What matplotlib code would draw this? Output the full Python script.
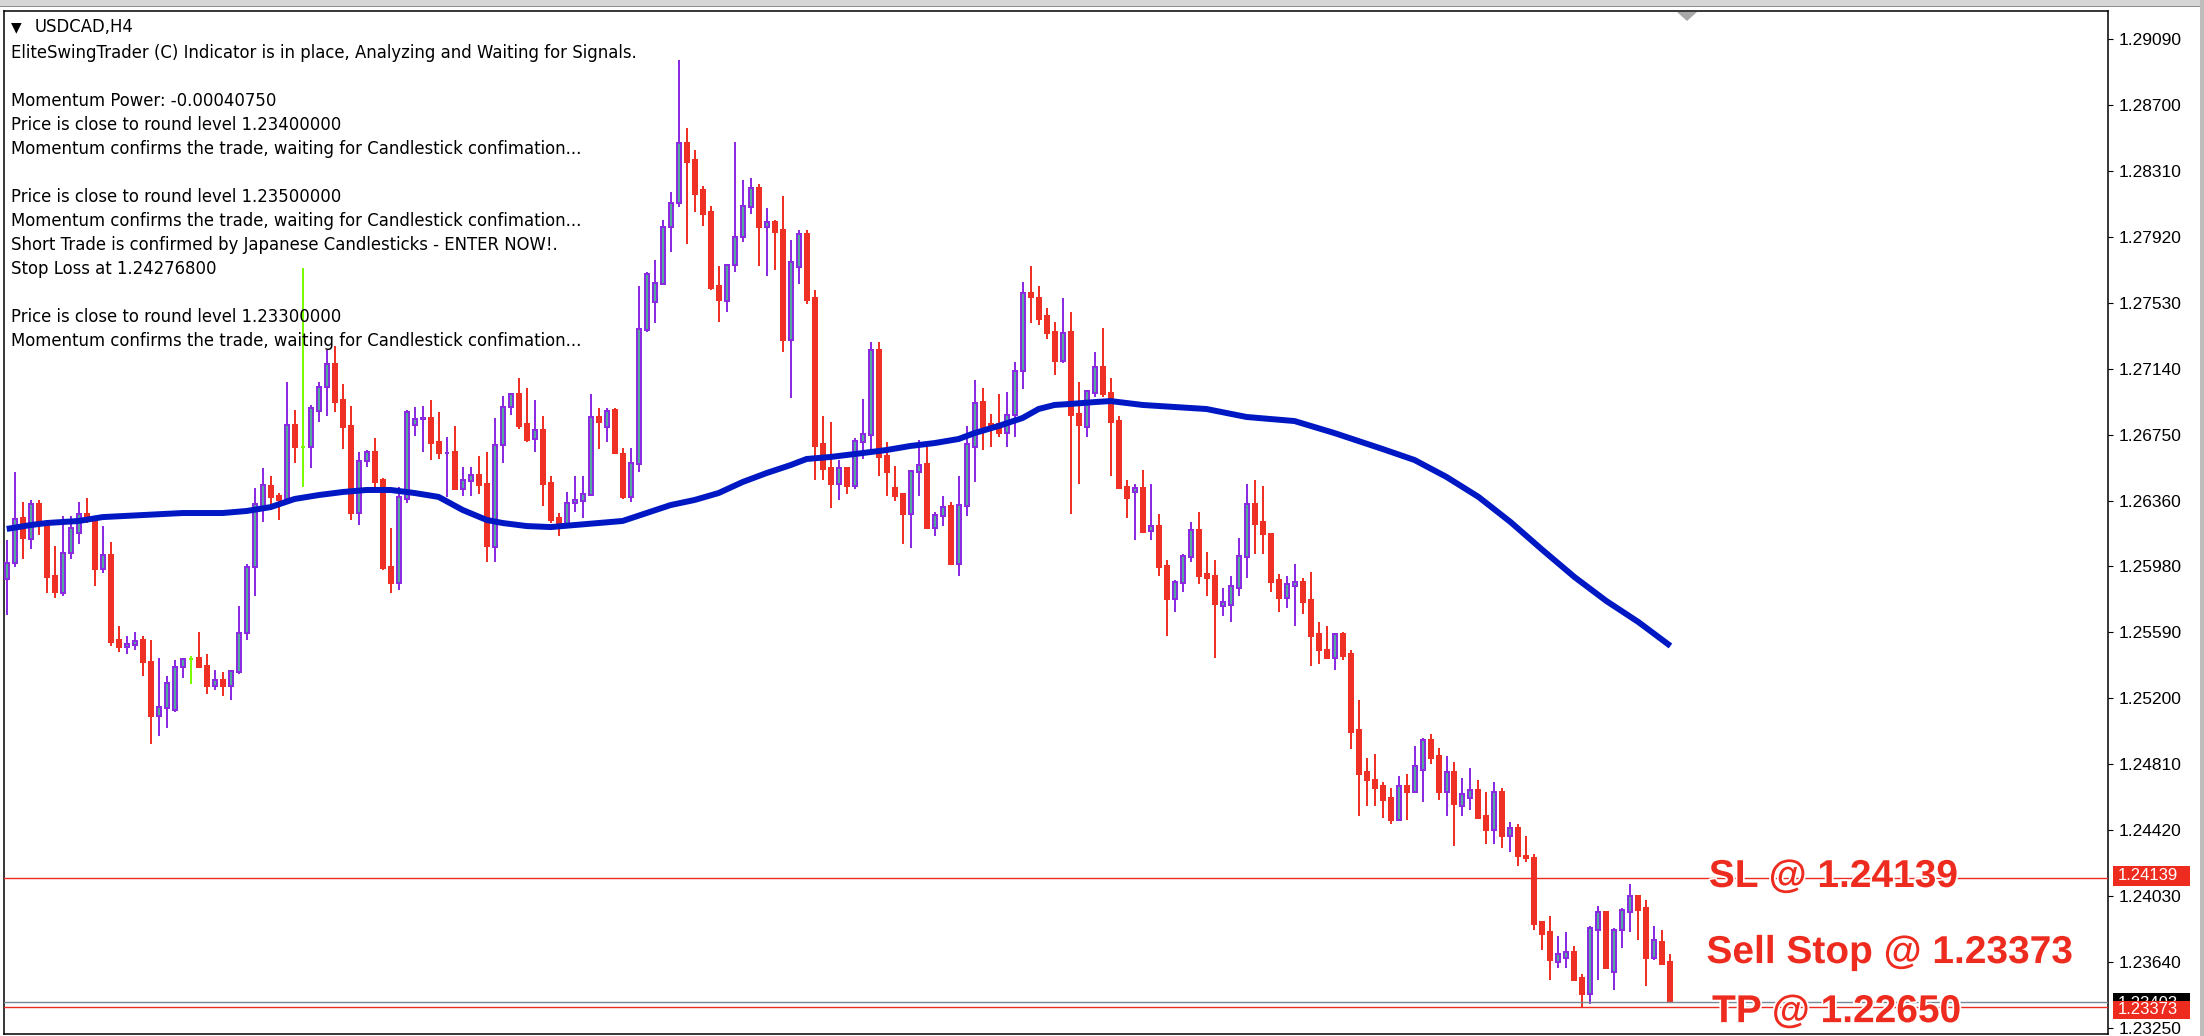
import matplotlib
matplotlib.use('Agg')
import matplotlib.pyplot as plt
import matplotlib.patheffects as pe
from matplotlib.patches import Rectangle, Polygon
from matplotlib.transforms import Bbox
import numpy as np

# --- DATA: USDCAD H4 candles ---
opens = [
    1.25899, 1.25993, 1.26259, 1.26135, 1.26344, 1.26240, 1.25918, 1.25816, 1.26052, 1.26175,
    1.26283, 1.26240, 1.25958, 1.26046, 1.25540, 1.25497, 1.25511, 1.25540, 1.25412, 1.25095,
    1.25142, 1.25130, 1.25379, 1.25430, 1.25434, 1.25387, 1.25272, 1.25304, 1.25272, 1.25355,
    1.25580, 1.25970, 1.26328, 1.26450, 1.26391, 1.26371, 1.26813, 1.26683, 1.26679, 1.26891,
    1.27033, 1.27171, 1.26958, 1.26805, 1.26289, 1.26596, 1.26649, 1.26486, 1.25973, 1.25875,
    1.26371, 1.26813, 1.26844, 1.26850, 1.26710, 1.26643, 1.26651, 1.26430, 1.26482, 1.26517,
    1.26462, 1.26092, 1.26692, 1.26919, 1.26994, 1.26817, 1.26726, 1.26781, 1.26470, 1.26259,
    1.26226, 1.26348, 1.26360, 1.26395, 1.26860, 1.26797, 1.26899, 1.26639, 1.26383, 1.26582,
    1.27374, 1.27538, 1.27646, 1.27977, 1.28119, 1.28477, 1.28375, 1.28198, 1.28068, 1.27630,
    1.27544, 1.27754, 1.27918, 1.28095, 1.28209, 1.27977, 1.28008, 1.27961, 1.27315, 1.27741,
    1.27938, 1.27559, 1.26697, 1.26554, 1.26465, 1.26554, 1.26453, 1.26713, 1.26749, 1.27253,
    1.26627, 1.26437, 1.26402, 1.26288, 1.26536, 1.26579, 1.26205, 1.26276, 1.26331, 1.25992,
    1.26335, 1.26678, 1.26946, 1.26816, 1.26816, 1.26764, 1.26867, 1.27127, 1.27592, 1.27558,
    1.27454, 1.27359, 1.27186, 1.27359, 1.26875, 1.26800, 1.26997, 1.27154, 1.27001, 1.26835,
    1.26445, 1.26417, 1.26439, 1.26182, 1.26214, 1.25978, 1.25781, 1.25875, 1.26029, 1.26190,
    1.25930, 1.25918, 1.25741, 1.25745, 1.25851, 1.26029, 1.26344, 1.26238, 1.26167, 1.25895,
    1.25788, 1.25859, 1.25883, 1.25777, 1.25576, 1.25481, 1.25434, 1.25576, 1.25457, 1.25009,
    1.24761, 1.24713, 1.24678, 1.24607, 1.24481, 1.24678, 1.24642, 1.24772, 1.24950, 1.24855,
    1.24642, 1.24761, 1.24560, 1.24607, 1.24654, 1.24501, 1.24418, 1.24642, 1.24382, 1.24430,
    1.24266, 1.24254, 1.23875, 1.23816, 1.23639, 1.23663, 1.23698, 1.23544, 1.23450, 1.23828,
    1.23934, 1.23580, 1.23828, 1.23934, 1.24029, 1.23958, 1.23663, 1.23757, 1.23639,
]
highs = [
    1.26131, 1.26533, 1.26356, 1.26368, 1.26368, 1.26249, 1.26096, 1.26273, 1.26273, 1.26356,
    1.26379, 1.26257, 1.26214, 1.26119, 1.25623, 1.25564, 1.25587, 1.25564, 1.25540, 1.25434,
    1.25327, 1.25422, 1.25434, 1.25446, 1.25587, 1.25457, 1.25363, 1.25351, 1.25363, 1.25741,
    1.25989, 1.26439, 1.26557, 1.26509, 1.26411, 1.27065, 1.26899, 1.27740, 1.26929, 1.27065,
    1.27254, 1.27278, 1.27053, 1.26923, 1.26653, 1.26663, 1.26732, 1.26497, 1.26202, 1.26446,
    1.26899, 1.26919, 1.26923, 1.26958, 1.26889, 1.26742, 1.26805, 1.26564, 1.26564, 1.26627,
    1.26653, 1.26850, 1.26982, 1.26998, 1.27086, 1.27029, 1.26958, 1.26864, 1.26509, 1.26293,
    1.26415, 1.26509, 1.26509, 1.26994, 1.26909, 1.26909, 1.26909, 1.26673, 1.26673, 1.27630,
    1.27715, 1.27784, 1.28020, 1.28186, 1.28966, 1.28562, 1.28434, 1.28221, 1.28103, 1.27748,
    1.27758, 1.28481, 1.28257, 1.28269, 1.28233, 1.28091, 1.28020, 1.28162, 1.27902, 1.27961,
    1.27961, 1.27607, 1.26863, 1.26827, 1.26603, 1.26554, 1.26731, 1.26967, 1.27300, 1.27300,
    1.26709, 1.26567, 1.26402, 1.26544, 1.26721, 1.26701, 1.26296, 1.26390, 1.26355, 1.26508,
    1.26804, 1.27076, 1.27028, 1.26875, 1.26993, 1.27005, 1.27182, 1.27655, 1.27749, 1.27631,
    1.27499, 1.27420, 1.27558, 1.27478, 1.27064, 1.27017, 1.27241, 1.27383, 1.27088, 1.26863,
    1.26485, 1.26462, 1.26545, 1.26462, 1.26285, 1.26013, 1.25895, 1.26048, 1.26238, 1.26297,
    1.26060, 1.26013, 1.25848, 1.25918, 1.26143, 1.26462, 1.26486, 1.26450, 1.26167, 1.25930,
    1.25918, 1.25989, 1.25907, 1.25942, 1.25647, 1.25623, 1.25576, 1.25587, 1.25482, 1.25186,
    1.24843, 1.24867, 1.24702, 1.24666, 1.24737, 1.24749, 1.24914, 1.24962, 1.24985, 1.24903,
    1.24855, 1.24820, 1.24725, 1.24784, 1.24713, 1.24642, 1.24702, 1.24666, 1.24465, 1.24453,
    1.24384, 1.24277, 1.23875, 1.23911, 1.23793, 1.23816, 1.23734, 1.23568, 1.23852, 1.23970,
    1.23934, 1.23840, 1.23958, 1.24100, 1.24029, 1.24005, 1.23852, 1.23828, 1.23686,
]
lows = [
    1.25688, 1.25970, 1.26017, 1.26076, 1.26159, 1.25816, 1.25792, 1.25800, 1.26017, 1.26111,
    1.26230, 1.25859, 1.25934, 1.25505, 1.25469, 1.25461, 1.25481, 1.25327, 1.24926, 1.24973,
    1.25020, 1.25119, 1.25316, 1.25280, 1.25379, 1.25221, 1.25245, 1.25209, 1.25186, 1.25343,
    1.25540, 1.25800, 1.26239, 1.26338, 1.26249, 1.26367, 1.26584, 1.26446, 1.26558, 1.26830,
    1.26864, 1.26889, 1.26667, 1.26249, 1.26218, 1.26560, 1.26436, 1.25954, 1.25816, 1.25839,
    1.26348, 1.26746, 1.26653, 1.26604, 1.26608, 1.26387, 1.26426, 1.26391, 1.26391, 1.26403,
    1.26003, 1.26003, 1.26584, 1.26870, 1.26785, 1.26712, 1.26653, 1.26332, 1.26233, 1.26155,
    1.26218, 1.26296, 1.26263, 1.26395, 1.26667, 1.26712, 1.26643, 1.26371, 1.26358, 1.26533,
    1.27360, 1.27410, 1.27646, 1.27833, 1.28095, 1.27882, 1.28070, 1.27985, 1.27607, 1.27419,
    1.27479, 1.27715, 1.27892, 1.28056, 1.27748, 1.27689, 1.27725, 1.27242, 1.26972, 1.27646,
    1.27528, 1.26484, 1.26485, 1.26323, 1.26370, 1.26406, 1.26430, 1.26607, 1.26662, 1.26508,
    1.26390, 1.26359, 1.26110, 1.26087, 1.26390, 1.26205, 1.26158, 1.26217, 1.25992, 1.25921,
    1.26276, 1.26477, 1.26666, 1.26678, 1.26737, 1.26678, 1.26737, 1.27021, 1.27411, 1.27399,
    1.27316, 1.27103, 1.27174, 1.26288, 1.26465, 1.26737, 1.26977, 1.26977, 1.26508, 1.26430,
    1.26264, 1.26131, 1.26171, 1.26131, 1.25918, 1.25564, 1.25706, 1.25824, 1.26001, 1.25871,
    1.25800, 1.25434, 1.25682, 1.25647, 1.25800, 1.25907, 1.26048, 1.26048, 1.25824, 1.25706,
    1.25729, 1.25623, 1.25694, 1.25387, 1.25398, 1.25434, 1.25363, 1.25422, 1.24895, 1.24501,
    1.24560, 1.24560, 1.24489, 1.24453, 1.24477, 1.24477, 1.24642, 1.24583, 1.24808, 1.24595,
    1.24501, 1.24323, 1.24501, 1.24536, 1.24489, 1.24335, 1.24335, 1.24312, 1.24288, 1.24207,
    1.24230, 1.23828, 1.23710, 1.23533, 1.23604, 1.23604, 1.23533, 1.23367, 1.23391, 1.23533,
    1.23604, 1.23473, 1.23722, 1.23816, 1.23769, 1.23497, 1.23651, 1.23627, 1.23403,
]
closes = [
    1.25997, 1.26257, 1.26145, 1.26344, 1.26240, 1.25911, 1.25826, 1.26056, 1.26200, 1.26283,
    1.26249, 1.25958, 1.26046, 1.25530, 1.25497, 1.25517, 1.25538, 1.25412, 1.25091, 1.25146,
    1.25290, 1.25383, 1.25430, 1.25430, 1.25379, 1.25268, 1.25304, 1.25268, 1.25359, 1.25584,
    1.25974, 1.26344, 1.26458, 1.26383, 1.26367, 1.26813, 1.26679, 1.26683, 1.26909, 1.27037,
    1.27171, 1.26949, 1.26797, 1.26289, 1.26600, 1.26649, 1.26476, 1.25966, 1.25875, 1.26387,
    1.26887, 1.26848, 1.26852, 1.26702, 1.26643, 1.26647, 1.26430, 1.26486, 1.26517, 1.26454,
    1.26099, 1.26694, 1.26919, 1.26992, 1.26805, 1.26722, 1.26781, 1.26462, 1.26249, 1.26226,
    1.26352, 1.26365, 1.26401, 1.26860, 1.26830, 1.26895, 1.26643, 1.26383, 1.26588, 1.27380,
    1.27701, 1.27650, 1.27981, 1.28123, 1.28477, 1.28365, 1.28174, 1.28056, 1.27618, 1.27551,
    1.27758, 1.27922, 1.28103, 1.28209, 1.27977, 1.28007, 1.27951, 1.27315, 1.27772, 1.27938,
    1.27551, 1.26685, 1.26548, 1.26465, 1.26554, 1.26453, 1.26717, 1.26755, 1.27253, 1.26619,
    1.26536, 1.26390, 1.26288, 1.26540, 1.26575, 1.26205, 1.26280, 1.26327, 1.25992, 1.26339,
    1.26697, 1.26942, 1.26796, 1.26804, 1.26764, 1.26871, 1.27131, 1.27592, 1.27564, 1.27434,
    1.27351, 1.27186, 1.27355, 1.26867, 1.26808, 1.27013, 1.27154, 1.26993, 1.26831, 1.26441,
    1.26382, 1.26439, 1.26180, 1.26214, 1.25970, 1.25781, 1.25883, 1.26037, 1.26190, 1.25918,
    1.25907, 1.25753, 1.25765, 1.25859, 1.26037, 1.26344, 1.26226, 1.26167, 1.25883, 1.25788,
    1.25871, 1.25883, 1.25765, 1.25564, 1.25481, 1.25434, 1.25576, 1.25446, 1.24999, 1.24749,
    1.24713, 1.24666, 1.24595, 1.24477, 1.24678, 1.24642, 1.24796, 1.24950, 1.24843, 1.24642,
    1.24761, 1.24572, 1.24631, 1.24654, 1.24489, 1.24418, 1.24642, 1.24382, 1.24430, 1.24266,
    1.24254, 1.23864, 1.23804, 1.23651, 1.23686, 1.23698, 1.23533, 1.23450, 1.23840, 1.23934,
    1.23604, 1.23828, 1.23946, 1.24029, 1.23946, 1.23663, 1.23769, 1.23627, 1.23403,
]

# moving average (bar index, value)
ma_idx = [0, 3, 5, 9, 12, 17, 22, 27, 30, 33, 36, 39, 42, 45, 48, 51, 54, 57, 60, 62,
          65, 68, 71, 74, 77, 80, 83, 86, 89, 92, 95, 98, 100, 103, 107, 110, 113, 116, 119, 121,
          124, 127, 129, 131, 133, 136, 138, 142, 150, 155, 161, 166, 172, 176, 180, 184, 188, 192,
          196, 200, 204, 208]
ma_val = [1.26197, 1.26220, 1.26232, 1.26244, 1.26267, 1.26279, 1.26291, 1.26291, 1.26303, 1.26326,
          1.26374, 1.26397, 1.26415, 1.26427, 1.26427, 1.26409, 1.26386, 1.26309, 1.26250, 1.26232,
          1.26214, 1.26208, 1.26220, 1.26232, 1.26244, 1.26291, 1.26338, 1.26368, 1.26409, 1.26474,
          1.26527, 1.26574, 1.26610, 1.26622, 1.26645, 1.26663, 1.26687, 1.26704, 1.26728, 1.26763,
          1.26805, 1.26852, 1.26905, 1.26929, 1.26935, 1.26946, 1.26952, 1.26929, 1.26905, 1.26858,
          1.26834, 1.26763, 1.26669, 1.26604, 1.26504, 1.26386, 1.26238, 1.26073, 1.25913, 1.25771,
          1.25647, 1.25506]

price_ticks = [1.29090, 1.28700, 1.28310, 1.27920, 1.27530, 1.27140, 1.26750, 1.26360,
               1.25980, 1.25590, 1.25200, 1.24810, 1.24420, 1.24030, 1.23640, 1.23250]

sl_price = 1.24139
entry_price = 1.23373
bid_price = 1.23403
tp_price = 1.22650

info_lines = [
    "EliteSwingTrader (C) Indicator is in place, Analyzing and Waiting for Signals.",
    "",
    "Momentum Power: -0.00040750",
    "Price is close to round level 1.23400000",
    "Momentum confirms the trade, waiting for Candlestick confimation...",
    "",
    "Price is close to round level 1.23500000",
    "Momentum confirms the trade, waiting for Candlestick confimation...",
    "Short Trade is confirmed by Japanese Candlesticks - ENTER NOW!.",
    "Stop Loss at 1.24276800",
    "",
    "Price is close to round level 1.23300000",
    "Momentum confirms the trade, waiting for Candlestick confimation...",
]

# --- colours ---
BULL_EDGE = '#8A2BE2'
BULL_FACE = '#52A79F'
BEAR = '#EE3124'
DOJI = '#7CFC00'
MA_COL = '#0018C4'
LINE_RED = '#EE2B1F'

W, H = 2204, 1036
fig = plt.figure(figsize=(W / 100, H / 100), dpi=100)
fig.patch.set_facecolor('white')


def fx(px):
    return px / W


def fy(py):
    return 1 - py / H


ax = fig.add_axes([fx(4), fy(1034), fx(2108) - fx(4), fy(11) - fy(1034)])
ax.set_xlim(-0.34, 262.7)
ax.set_ylim(1.23215, 1.29255)

o = np.array(opens)
h = np.array(highs)
l = np.array(lows)
c = np.array(closes)
x = np.arange(len(o))

edge = np.where(c > o, BULL_EDGE, np.where(c < o, BEAR, DOJI))
face = np.where(c > o, BULL_FACE, np.where(c < o, BEAR, DOJI))

ax.vlines(x, l, h, colors=edge, lw=1.44, zorder=2)
ax.bar(x, np.abs(c - o), bottom=np.minimum(o, c), width=0.5,
       color=face, edgecolor=edge, linewidth=1.44, zorder=3)

ax.plot(ma_idx, ma_val, color=MA_COL, lw=4.3, solid_capstyle='butt', zorder=4)

# horizontal levels
ax.axhline(sl_price, color=LINE_RED, lw=1.0, zorder=5)
ax.axhline(bid_price, color='#7A8896', lw=1.0, zorder=5)
ax.axhline(entry_price, color=LINE_RED, lw=1.0, zorder=5)

halo = [pe.withStroke(linewidth=2.5, foreground='white')]
big = dict(color=LINE_RED, fontsize=28, fontweight='bold', family='Liberation Sans',
           va='baseline', ha='left', zorder=6, path_effects=halo)
ax.text(212.8, 1.24083, f"SL @ {sl_price:.5f}", **big)
ax.text(212.5, 1.23634, f"Sell Stop @ {entry_price:.5f}", **big)
ax.text(213.2, 1.23285, f"TP @ {tp_price:.5f}", **big)

# price scale on the right
ax.yaxis.tick_right()
ax.set_yticks(price_ticks)
ax.set_yticklabels([f"{v:.5f}" for v in price_ticks])
ax.set_xticks([])
ax.tick_params(axis='y', direction='out', length=3.6, width=0.8, pad=4,
               labelsize=12.5, colors='black')
for lab in ax.get_yticklabels():
    lab.set_family('Liberation Sans')
for sp in ax.spines.values():
    sp.set_color('black')
    sp.set_linewidth(1.1)


def price_box(text, bg, top, bottom, z, clip_bottom=None):
    fig.add_artist(Rectangle((fx(2113), fy(bottom)), fx(2190) - fx(2113), fy(top) - fy(bottom),
                             transform=fig.transFigure, facecolor=bg, edgecolor='none', zorder=z))
    t = fig.text(fx(2118), fy((top + bottom) / 2), text, color='white', fontsize=12,
                 family='Liberation Sans', va='center', ha='left', zorder=z + 1)
    if clip_bottom is not None:
        # only the top of this label peeks out above the next box
        t.set_clip_box(Bbox([[2113, H - clip_bottom], [2190, H - top]]))
        t.set_clip_on(True)


price_box(f"{sl_price:.5f}", LINE_RED, 866, 886, 10)
price_box(f"{bid_price:.5f}", 'black', 993, 1013, 12, clip_bottom=1001)
price_box(f"{entry_price:.5f}", LINE_RED, 1001, 1019, 14)

# header text
fig.text(fx(11), fy(27), "\u25BC", fontsize=10, family='DejaVu Sans', va='center', ha='left')
fig.text(fx(35), fy(27), "USDCAD,H4", fontsize=11.9, family='DejaVu Sans', va='center', ha='left')
for i, line in enumerate(info_lines):
    if line:
        fig.text(fx(11), fy(53 + 24 * i), line, fontsize=11.9, family='DejaVu Sans',
                 va='center', ha='left')

# window chrome: top strip, shift marker, right edge
fig.add_artist(Rectangle((0, fy(6)), 1, fy(0) - fy(6), transform=fig.transFigure,
                         facecolor='#D6D6D6', edgecolor='none'))
fig.add_artist(Rectangle((0, fy(7)), 1, fy(6) - fy(7), transform=fig.transFigure,
                         facecolor='#8C8C8C', edgecolor='none'))
fig.add_artist(Polygon([[fx(1677), fy(12)], [fx(1697), fy(12)], [fx(1687), fy(21)]],
                       closed=True, transform=fig.transFigure, facecolor='#A8A8A8', edgecolor='none'))
fig.add_artist(Rectangle((fx(2200), 0), fx(4), 1, transform=fig.transFigure,
                         facecolor='#BDBDBD', edgecolor='none'))

fig.savefig('out.png', dpi=100, facecolor='white')
